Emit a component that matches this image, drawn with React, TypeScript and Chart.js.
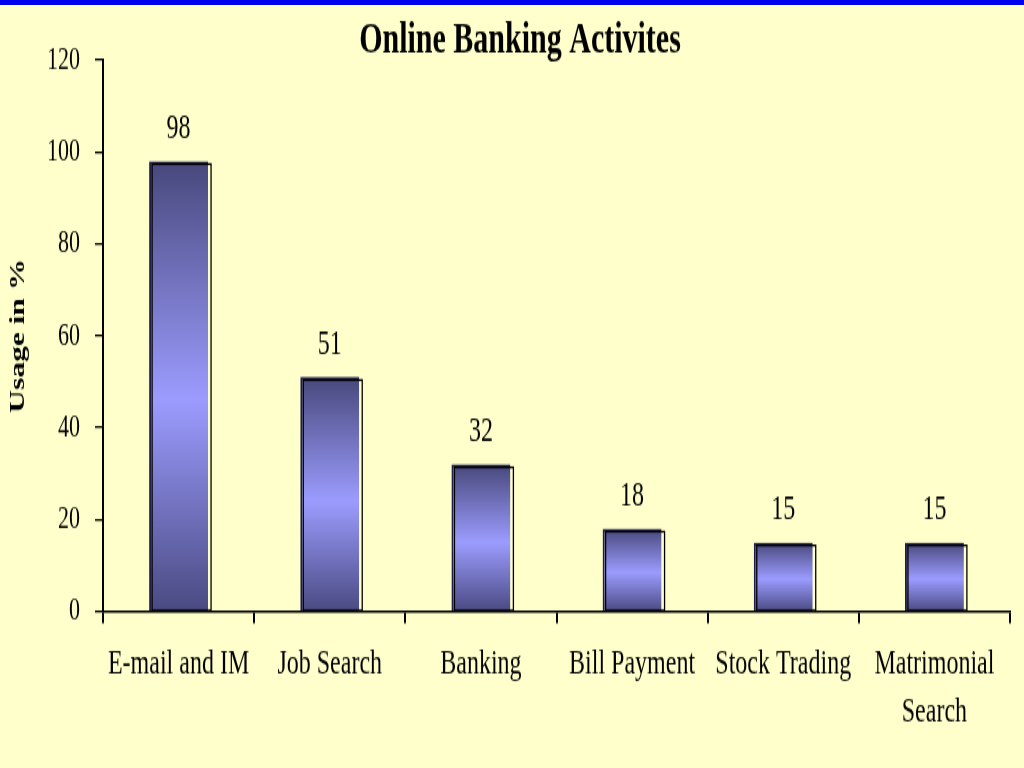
import { useEffect, useRef } from "react"
import { Chart, registerables } from "chart.js"

Chart.register(...registerables)

const categories: (string | string[])[] = [
  "E-mail and IM",
  "Job Search",
  "Banking",
  "Bill Payment",
  "Stock Trading",
  ["Matrimonial", "Search"],
]
const usage = [98, 51, 32, 18, 15, 15]
const yTicks = [0, 20, 40, 60, 80, 100, 120]

const SERIF = "'Liberation Serif', 'Times New Roman', serif"
// the reference is stretched vertically, so the chart is drawn 1.5x shorter and scaled up
const STRETCH = 1.5

// black offset frame behind each bar plus the value labels
const barDecor = {
  id: "barDecor",
  afterDatasetsDraw(chart: Chart) {
    const { ctx } = chart
    const meta = chart.getDatasetMeta(0)
    ctx.save()
    meta.data.forEach((el, i) => {
      const { x, y, width, base } = el.getProps(["x", "y", "width", "base"], true) as any
      ctx.strokeStyle = "#000"
      ctx.lineWidth = 1.3
      ctx.strokeRect(x - width / 2 + 3, y + 2, width, base - y - 2)

      ctx.fillStyle = "#000"
      ctx.font = `24px ${SERIF}`
      ctx.textAlign = "center"
      ctx.textBaseline = "middle"
      ctx.fillText(String(usage[i]), x, y - 22)
    })
    ctx.restore()
  },
}

export default function App() {
  const chartRef = useRef<HTMLCanvasElement>(null)
  const chartInstance = useRef<Chart | null>(null)

  useEffect(() => {
    if (!chartRef.current) return
    if (chartInstance.current) chartInstance.current.destroy()

    chartInstance.current = new Chart(chartRef.current, {
      type: "bar",
      data: {
        labels: categories,
        datasets: [
          {
            label: "Usage in %",
            data: usage,
            backgroundColor: (c: any) => {
              const chart = c.chart
              if (!chart.chartArea || c.raw == null) return "#6a6ab8"
              const y = chart.scales.y
              const top = y.getPixelForValue(c.raw)
              const base = y.getPixelForValue(0)
              const g = chart.ctx.createLinearGradient(0, top, 0, base)
              g.addColorStop(0, "#48487c")
              g.addColorStop(0.53, "#9c9cff")
              g.addColorStop(1, "#4a4a82")
              return g
            },
            borderColor: "#1e1e4e",
            borderWidth: { top: 2, left: 2, right: 0, bottom: 0 },
            borderSkipped: false,
            barPercentage: 0.39,
            categoryPercentage: 1,
          },
        ],
      },
      options: {
        responsive: true,
        maintainAspectRatio: false,
        animation: false,
        layout: { padding: { left: 30, right: 14, top: 0, bottom: 10 } },
        plugins: {
          legend: { display: false },
          tooltip: { enabled: false },
          title: {
            display: true,
            text: "Online Banking Activites",
            color: "#000",
            font: { family: SERIF, size: 30, weight: "bold", lineHeight: 1 },
            padding: { top: 12, bottom: -2 },
          },
        },
        scales: {
          x: {
            grid: {
              display: true,
              drawOnChartArea: false,
              drawTicks: true,
              tickLength: 8,
              color: "#000",
              lineWidth: 2,
              offset: true,
            },
            border: { display: true, color: "#000", width: 1.5 },
            ticks: {
              color: "#000",
              font: { family: SERIF, size: 24, lineHeight: 1.3 },
              padding: 12,
              maxRotation: 0,
              autoSkip: false,
            },
          },
          y: {
            min: yTicks[0],
            max: yTicks[yTicks.length - 1],
            afterBuildTicks: (axis: any) => {
              axis.ticks = yTicks.map((v) => ({ value: v }))
            },
            grid: {
              display: true,
              drawOnChartArea: false,
              drawTicks: true,
              tickLength: 8,
              color: "#000",
              lineWidth: 1.3,
            },
            border: { display: true, color: "#000", width: 2 },
            ticks: {
              color: "#000",
              font: { family: SERIF, size: 22 },
              padding: 15,
            },
            title: {
              display: true,
              text: "Usage in %",
              color: "#000",
              font: { family: SERIF, size: 21, weight: "bold" },
              padding: { top: -23.6, bottom: 0.4 },
            },
          },
        },
      },
      plugins: [barDecor],
    })

    return () => {
      if (chartInstance.current) {
        chartInstance.current.destroy()
        chartInstance.current = null
      }
    }
  }, [])

  return (
    <div
      style={{
        position: "absolute",
        left: 0,
        top: 0,
        width: 1024,
        height: 768,
        background: "#ffffcc",
        overflow: "hidden",
      }}
    >
      <div style={{ position: "absolute", left: 0, top: 0, width: 1024, height: 5, background: "#0000ee" }} />
      <div
        style={{
          position: "absolute",
          left: 0,
          top: 0,
          width: 1024,
          height: 768 / STRETCH,
          transform: `scaleY(${STRETCH})`,
          transformOrigin: "top left",
        }}
      >
        <canvas ref={chartRef} />
      </div>
    </div>
  )
}
